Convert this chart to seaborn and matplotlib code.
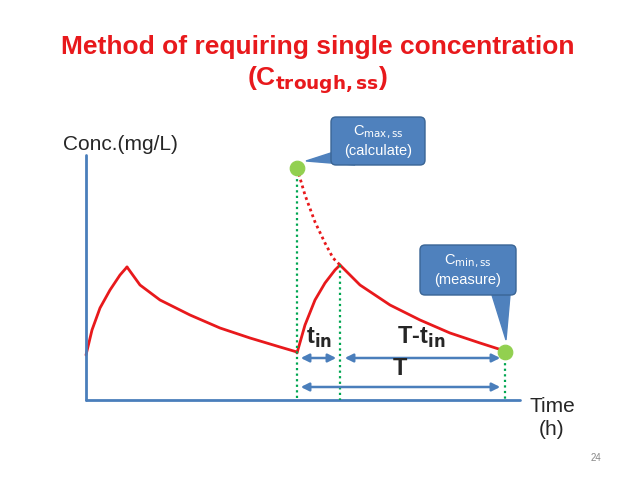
import matplotlib
matplotlib.use("Agg")
import matplotlib.pyplot as plt
import seaborn as sns
import pandas as pd
from matplotlib.patches import FancyBboxPatch, Polygon

sns.set_style("white")
plt.rcParams['font.family'] = ['Liberation Sans', 'DejaVu Sans']

RED = "#e8191c"; BLUE = "#4f81bd"; GREEN = "#92d050"; AX = "#4a7ebb"

# curve points (pixel-like coordinates)
rise1_x = [86, 92, 100, 110, 120, 127]; rise1_y = [355, 330, 308, 290, 275, 267]
dec1_x = [127, 140, 160, 190, 220, 250, 280, 297]; dec1_y = [267, 285, 300, 315, 328, 338, 347, 352]
rise2_x = [297, 305, 315, 325, 335, 340]; rise2_y = [353, 325, 300, 283, 270, 265]
dec2_x = [340, 360, 390, 420, 450, 480, 505]; dec2_y = [265, 285, 305, 320, 333, 343, 351]
dot_x = [297, 305, 315, 325, 333, 340]; dot_y = [168, 195, 222, 243, 258, 265]
pts_x = [297, 505]; pts_y = [168, 352]

fig = plt.figure(figsize=(6.38, 4.79), dpi=100)
ax = fig.add_axes([0, 0, 1, 1])
ax.set_xlim(0, 638); ax.set_ylim(479, 0); ax.axis("off")

for xs, ys in [(rise1_x, rise1_y), (dec1_x, dec1_y), (rise2_x, rise2_y), (dec2_x, dec2_y)]:
    sns.lineplot(x=xs, y=ys, sort=False, color=RED, lw=2, ax=ax, estimator=None)
sns.lineplot(x=dot_x, y=dot_y, sort=False, color=RED, lw=2, ls=(0, (1, 1.2)), ax=ax, estimator=None)

# axes
ax.plot([86, 86], [155, 400], color=AX, lw=2)
ax.plot([86, 520], [400, 400], color=AX, lw=2)

# green verticals
for x0, y0 in [(297, 168), (340, 265), (505, 352)]:
    ax.plot([x0, x0], [y0, 400], color="#00a651", lw=1.6, ls=(0, (1, 1.5)))
sns.scatterplot(x=pts_x, y=pts_y, color=GREEN, s=110, marker="o", edgecolor=GREEN, ax=ax, zorder=5)

# arrows
def darrow(x0, x1, y):
    ax.annotate("", xy=(x0, y), xytext=(x1, y),
                arrowprops=dict(arrowstyle="<|-|>", color=AX, lw=1.8, mutation_scale=12))
darrow(298, 339, 358); darrow(342, 503, 358); darrow(298, 503, 387)

ax.text(306, 350, r"t$_{\mathbf{in}}$", fontsize=17, fontweight="bold", ha="left", va="bottom")
ax.text(397, 350, r"T-t$_{\mathbf{in}}$", fontsize=17, fontweight="bold", ha="left", va="bottom")
ax.text(400, 380, "T", fontsize=17, fontweight="bold", ha="center", va="bottom")

# callouts
def callout(x0, y0, w, h, tip, base, lines):
    ax.add_patch(Polygon([base[0], base[1], tip], closed=True, color=BLUE, zorder=3))
    ax.add_patch(FancyBboxPatch((x0, y0), w, h, boxstyle="round,pad=0,rounding_size=5",
                                fc=BLUE, ec="#3a6595", lw=1, zorder=3))
    ax.text(x0 + w / 2, y0 + h / 2, lines, color="white", fontsize=10.5, ha="center",
            va="center", zorder=4, linespacing=1.3)
callout(331, 117, 94, 48, (306, 161), ((340, 150), (355, 165)),
        "C$_{\\mathrm{max,ss}}$\n(calculate)")
callout(420, 245, 96, 50, (506, 340), ((492, 295), (510, 295)),
        "C$_{\\mathrm{min,ss}}$\n(measure)")

# labels
ax.text(63, 145, "Conc.(mg/L)", fontsize=15, ha="left", va="center")
ax.text(552, 418, "Time\n(h)", fontsize=15, ha="center", va="center", linespacing=1.3)
ax.text(596, 458, "24", fontsize=7, color="#888888", ha="center", va="center")

ax.text(318, 47, "Method of requiring single concentration", fontsize=19, fontweight="bold",
        color=RED, ha="center", va="center")
ax.text(318, 80, r"(C$_{\mathbf{trough,ss}}$)", fontsize=19, fontweight="bold",
        color=RED, ha="center", va="center")

fig.savefig("out.png", dpi=100)
